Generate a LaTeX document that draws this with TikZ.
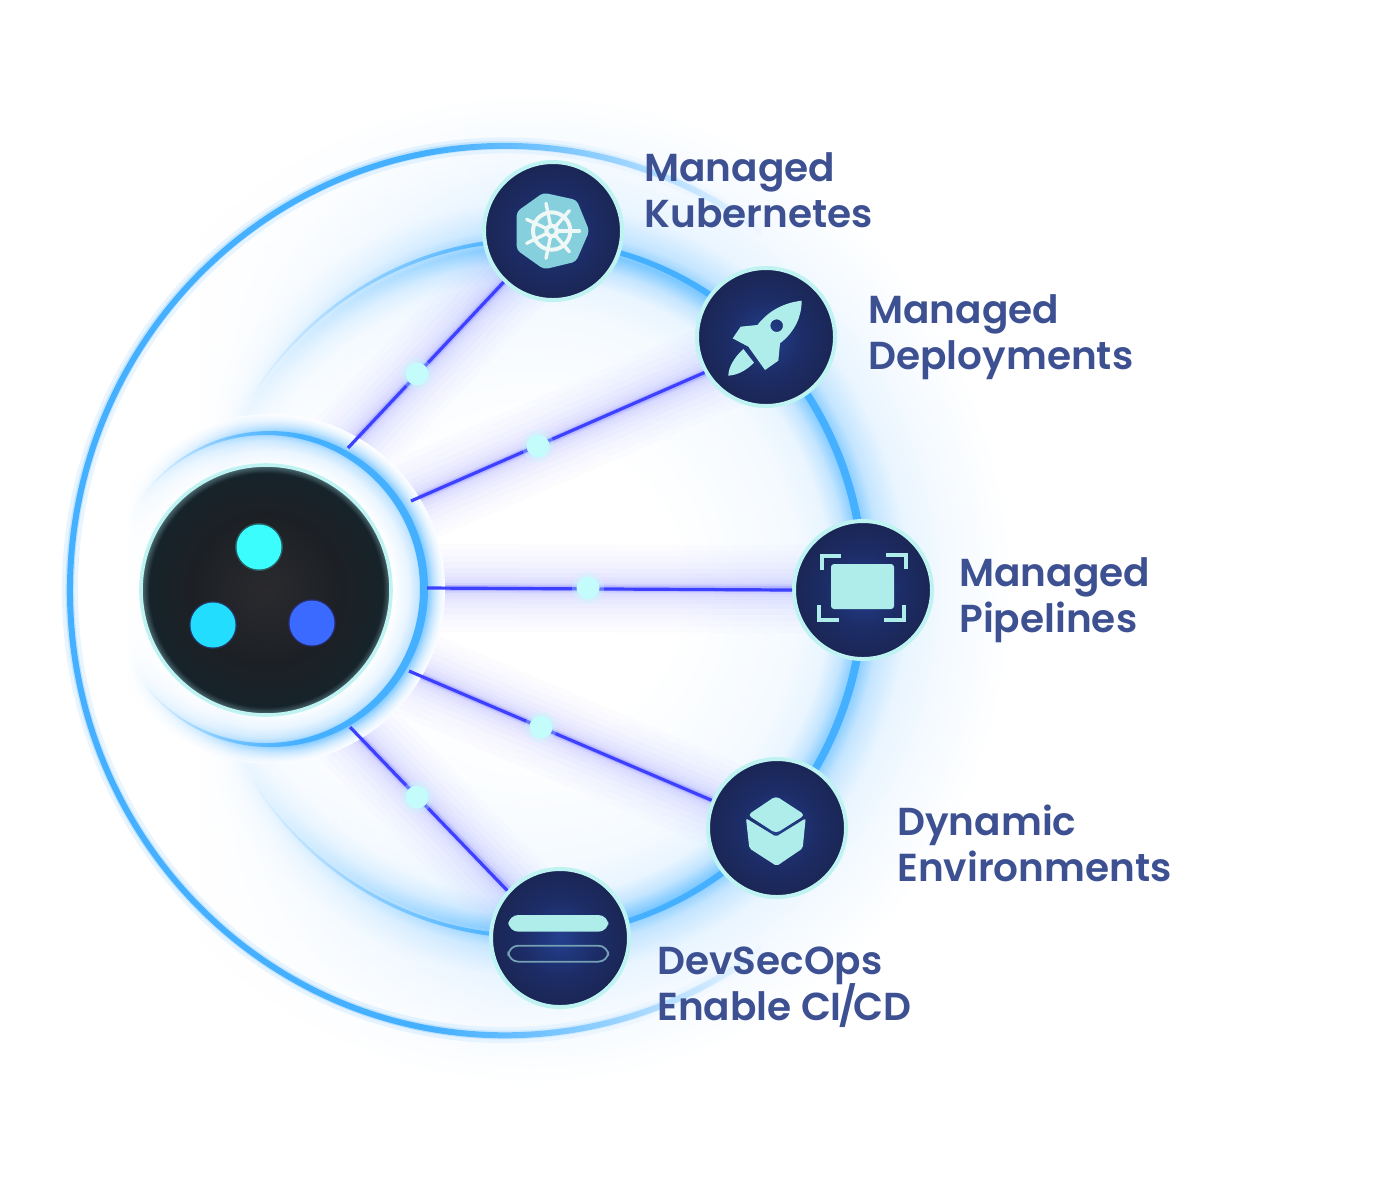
\documentclass[tikz,border=0pt]{standalone}
\usepackage{fontspec}
\setmainfont{Poppins SemiBold}
\usetikzlibrary{fadings,calc}
\newcommand{\labsetup}{\lineskiplimit=-20pt\relax}
\definecolor{ringblue}{HTML}{45B0FF}
\definecolor{linkblue}{HTML}{3D40FF}
\definecolor{lavender}{HTML}{6A6AFF}
\definecolor{mint}{HTML}{AEEDEA}
\definecolor{edgemint}{HTML}{BFF3F2}
\definecolor{beadmint}{HTML}{C4FBFB}
\definecolor{labelblue}{HTML}{3D5192}
\definecolor{wheelc}{HTML}{F0F7F7}
\definecolor{heptc}{HTML}{85D0DC}
\definecolor{gW}{HTML}{FFFFFF}
\definecolor{gA}{HTML}{F5FAFF}
\definecolor{gB}{HTML}{E9F5FF}
\definecolor{gC}{HTML}{C4E5FF}
\definecolor{gD}{HTML}{7CC8FF}
\definecolor{nA}{HTML}{24408F}
\definecolor{nB}{HTML}{1C2C66}
\definecolor{nC}{HTML}{1A2654}
\definecolor{hA}{HTML}{2A2A2E}
\definecolor{hB}{HTML}{1C2025}
\definecolor{hC}{HTML}{17232A}
\definecolor{hD}{HTML}{4C6A72}
\definecolor{spotA}{HTML}{3CFDFD}
\definecolor{spotB}{HTML}{23DDFF}
\definecolor{spotC}{HTML}{3A6AFF}
\pgfdeclareradialshading{bigglow}{\pgfpointorigin}{color(0bp)=(gW); color(7.5bp)=(gW); color(13.75bp)=(gA); color(15.5bp)=(gB); color(16.4bp)=(gC); color(17.2bp)=(gD); color(18.1bp)=(gC); color(19.5bp)=(gB); color(21.75bp)=(gA); color(25bp)=(gW); color(50bp)=(gW)}
\pgfdeclareradialshading{hubglow}{\pgfpointorigin}{color(0bp)=(gW); color(17.5bp)=(gW); color(19.8bp)=(gB); color(21.2bp)=(gC); color(22.4bp)=(gD); color(23.4bp)=(gC); color(24.2bp)=(gB); color(25bp)=(gW); color(50bp)=(gW)}
\pgfdeclareradialshading{navydisc}{\pgfpointorigin}{color(0bp)=(nA); color(14bp)=(nB); color(25bp)=(nC); color(50bp)=(nC)}
\pgfdeclareradialshading{hubdisc}{\pgfpointorigin}{color(0bp)=(hA); color(15bp)=(hB); color(23.4bp)=(hC); color(24.8bp)=(hD); color(50bp)=(hD)}
\pgfdeclarehorizontalshading{shbig}{100bp}{color(0bp)=(pgftransparent!100); color(32.8bp)=(pgftransparent!100); color(49.4bp)=(pgftransparent!0); color(100bp)=(pgftransparent!0)}
\pgfdeclarefading{fadebig}{\pgfuseshading{shbig}}
\pgfdeclarehorizontalshading{shinner}{100bp}{color(0bp)=(pgftransparent!100); color(29bp)=(pgftransparent!100); color(50bp)=(pgftransparent!0); color(100bp)=(pgftransparent!0)}
\pgfdeclarefading{fadeinner}{\pgfuseshading{shinner}}
\pgfdeclarehorizontalshading{shouter}{100bp}{color(0bp)=(pgftransparent!0); color(45.7bp)=(pgftransparent!0); color(64.7bp)=(pgftransparent!100); color(100bp)=(pgftransparent!100)}
\pgfdeclarefading{fadeouter}{\pgfuseshading{shouter}}
\pgfdeclarehorizontalshading{shhub}{100bp}{color(0bp)=(pgftransparent!100); color(29.5bp)=(pgftransparent!100); color(55bp)=(pgftransparent!0); color(100bp)=(pgftransparent!0)}
\pgfdeclarefading{fadehub}{\pgfuseshading{shhub}}
\tikzset{
  navy/.style={circle,minimum size=69pt,inner sep=0pt,shade,shading=navydisc,draw=edgemint,line width=2pt},
  link/.style={draw=linkblue,line width=1.6pt},
  bead/.style={circle,minimum size=11.5pt,inner sep=0pt,fill=beadmint},
  lab/.style={text=labelblue,align=left,anchor=west,inner sep=0pt,font=\fontsize{19.5}{23}\selectfont,execute at begin node=\labsetup},
  icon/.style={fill=mint,draw=none},
  bracket/.style={draw=mint,line width=2.4pt},
  wheel/.style={draw=wheelc,line width=1.7pt,line cap=round},
  spot/.style={circle,inner sep=0pt,minimum size=22.5pt},
}
\begin{document}
\begin{tikzpicture}[x=0.5pt,y=-0.5pt]
\useasboundingbox (0,0) rectangle (1384,1180);
\fill[white] (0,0) rectangle (1384,1180);
% soft glows
\path[shade,shading=bigglow,path fading=fadebig] (532,588) ellipse [x radius=241.5pt,y radius=249pt];
% outer arc
\path[fill=ringblue,opacity=.12,even odd rule,path fading=fadeouter] (505,590) ellipse [x radius=221.5pt,y radius=226.5pt] (505,590) ellipse [x radius=213.5pt,y radius=218.5pt];
\path[fill=ringblue,opacity=.22,even odd rule,path fading=fadeouter] (505,590) ellipse [x radius=219.7pt,y radius=224.7pt] (505,590) ellipse [x radius=215.3pt,y radius=220.3pt];
\path[fill=ringblue,even odd rule,path fading=fadeouter] (505,590) ellipse [x radius=219pt,y radius=224pt] (505,590) ellipse [x radius=216pt,y radius=221pt];
% inner arc
\path[fill=ringblue,even odd rule,path fading=fadeinner] (532,588) ellipse [x radius=168pt,y radius=175.2pt] (529,588) ellipse [x radius=165.5pt,y radius=173pt];
% connector halos
\coordinate (ck) at (553,231);
\coordinate (cd) at (766,337);
\coordinate (cp) at (863,590);
\coordinate (cy) at (777,828);
\coordinate (cs) at (560,938);
\coordinate (s1) at (348,448);
\coordinate (s2) at (411,501);
\coordinate (s3) at (427,588);
\coordinate (s4) at (409,671);
\coordinate (s5) at (350,727);
\coordinate (e1) at (520,265);
\coordinate (e2) at (730,362);
\coordinate (e3) at (820,589);
\coordinate (e4) at (735,810);
\coordinate (e5) at (530,912);
\foreach \a/\b in {s1/e1,s2/e2,s3/e3,s4/e4,s5/e5}{
  \foreach \w/\o in {44/.015,38/.018,32/.02,26/.024,20/.03,15/.03,11/.035,8/.04,5/.1,3/.25}{
    \draw[lavender,line width=\w pt,opacity=\o] (\a) -- (\b);
  }
}
% hub glow and crescent
\path[shade,shading=hubglow,path fading=fadehub] (270,589) circle [radius=87.5pt];
\path[fill=ringblue,even odd rule,path fading=fadehub] (270,589) circle [radius=79pt] (266,589) circle [radius=77pt];
% nodes
\node[navy] (k8s) at (ck) {};
\node[navy] (deploy) at (cd) {};
\node[navy] (pipes) at (cp) {};
\node[navy] (dyn) at (cy) {};
\node[navy] (dso) at (cs) {};
\node[circle,minimum size=125pt,inner sep=0pt,shade,shading=hubdisc,draw=edgemint,line width=1.8pt] (hub) at (266,590) {};
% connectors
\draw[link] (s1) -- (k8s.226);
\draw[link] (s2) -- (deploy.210);
\draw[link] (s3) -- (pipes.180);
\draw[link] (s4) -- (dyn.157);
\draw[link] (s5) -- (dso.138);
% beads
\foreach \n/\p in {b1/{(417,374)},b2/{(538,446)},b3/{(588,588)},b4/{(541,727)},b5/{(417,797)}}{
  \fill[beadmint,opacity=.3] \p circle [radius=8pt];
  \node[bead] (\n) at \p {};
}
% hub spots
\fill[spotA,opacity=.25] (259,547) circle [radius=12pt];
\fill[spotC,opacity=.3] (213,625) circle [radius=11.9pt];
\fill[linkblue,opacity=.3] (312,623) circle [radius=11.9pt];
\node[spot,fill=spotA] (sa) at (259,547) {};
\node[spot,fill=spotB] (sb) at (213,625) {};
\node[spot,fill=spotC] (sc) at (312,623) {};
% kubernetes icon
\begin{scope}[shift={(470,150)},scale=1/3]
\fill[heptc,rounded corners=2pt] (220,128)--(320,150)--(358,243)--(318,335)--(222,358)--(140,300)--(140,185)--cycle;
\draw[wheelc,line width=2pt] (245,243) circle [radius=56];
\foreach \x/\y in {228/160,298/182,328/243,298/305,228/325,170/280,170/208}{
  \draw[wheel] (245,243) -- (\x,\y);
}
\fill[wheelc] (245,243) circle [radius=22];
\fill[heptc] (245,243) circle [radius=9];
\end{scope}
% rocket icon
\begin{scope}[shift={(470,150)},scale=1/3]
\fill[icon,even odd rule] (995,452) .. controls (930,460) and (890,490) .. (862,525) -- (812,530) -- (788,565) -- (835,590) -- (885,660) -- (925,632) -- (930,580) .. controls (975,545) and (995,500) .. (995,452) -- cycle (920,527) circle [radius=19];
\fill[icon] (820,597) -- (852,638) .. controls (825,665) and (800,675) .. (775,677) .. controls (775,650) and (795,620) .. (820,597) -- cycle;
\end{scope}
% scan icon
\fill[icon,rounded corners=1.5pt] (831,564) rectangle (894,609);
\draw[bracket] (822,570)--(822,556)--(841,556) (886,555)--(906,555)--(906,569) (819,605)--(819,620)--(839,620) (884,620)--(904,620)--(904,605);
% cube icon
\begin{scope}[shift={(480,750)},scale=1/3]
\fill[icon,rounded corners=2pt] (888,138)--(975,195)--(888,250)--(803,195)--cycle;
\fill[icon,rounded corners=1pt] (798,205)--(888,260)--(977,205)--(968,295)--(890,348)--(808,295)--cycle;
\end{scope}
% bars icon
\begin{scope}[shift={(480,750)},scale=1/3]
\fill[icon,rounded corners=5pt] (85,495) rectangle (385,545);
\draw[mint!60!nB,line width=.9pt,rounded corners=5pt] (85,587) rectangle (385,635);
\end{scope}
% labels
\node[lab] (t1) at (644,190) {Managed\\Kubernetes};
\node[lab] (t2) at (868,337) {Managed\\Deployments};
\node[lab] (t3) at (959,600) {Managed\\Pipelines};
\node[lab] (t4) at (897,843) {Dynamic\\Environments};
\node[lab] (t5) at (657,987) {DevSecOps\\Enable CI\kern-1.7pt/\kern-1.7pt CD};
\end{tikzpicture}
\end{document}
